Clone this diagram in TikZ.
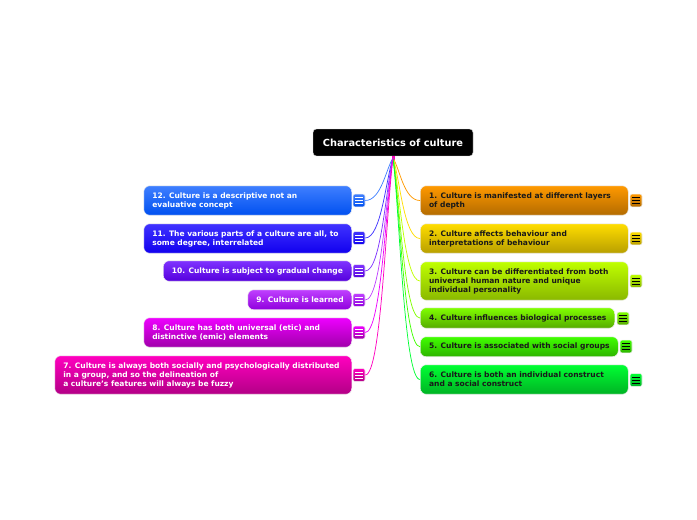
\documentclass[tikz,border=0pt]{standalone}
\usepackage{fontspec}
\usetikzlibrary{calc}
\setmainfont{DejaVu Sans}
\definecolor{top1}{HTML}{FF9900}\definecolor{bot1}{HTML}{B36B00}
\definecolor{top2}{HTML}{FFDD00}\definecolor{bot2}{HTML}{B89F00}
\definecolor{top3}{HTML}{BFFF00}\definecolor{bot3}{HTML}{8AB800}
\definecolor{top4}{HTML}{80FF00}\definecolor{bot4}{HTML}{55AA00}
\definecolor{top5}{HTML}{40FF00}\definecolor{bot5}{HTML}{2DB300}
\definecolor{top6}{HTML}{00FF33}\definecolor{bot6}{HTML}{00B324}
\definecolor{top7}{HTML}{FF00BF}\definecolor{bot7}{HTML}{B30086}
\definecolor{top8}{HTML}{EE00FF}\definecolor{bot8}{HTML}{A000AA}
\definecolor{top9}{HTML}{BF40FF}\definecolor{bot9}{HTML}{9000DD}
\definecolor{top10}{HTML}{7F33FF}\definecolor{bot10}{HTML}{5500DD}
\definecolor{top11}{HTML}{4033FF}\definecolor{bot11}{HTML}{1100EE}
\definecolor{top12}{HTML}{3F7FFF}\definecolor{bot12}{HTML}{0050F0}
\tikzset{
  rootbox/.style={rounded corners=2.5pt,fill=black,draw=black!15,line width=0.3pt,text=white,
    font=\fontsize{7.35}{9}\selectfont\bfseries,anchor=center,inner sep=0pt},
  topicbox/.style={rounded corners=4.5pt,draw=black!6,line width=0.4pt,anchor=north west,inner sep=0pt},
  topictext/.style={anchor=west,align=left,inner sep=0pt,font=\fontsize{5.64}{6.75}\selectfont\bfseries},
  badge/.style={rounded corners=1.5pt,draw=black!6,line width=0.4pt,minimum width=9pt,minimum height=9.6pt,inner sep=0pt},
  link/.style={line width=0.55pt}
}
\begin{document}
\begin{tikzpicture}[x=0.75pt,y=-0.75pt]
\useasboundingbox (0,0) rectangle (697,520);

\node[rootbox,minimum width=120pt,minimum height=20.2pt] (root) at (393,142.5) {Characteristics of culture};
\coordinate (hub) at (393,158);
\fill[top7] (391.5,156) rectangle (394.5,160);

% right side
\foreach \n/\xa/\ya/\xb/\yb/\bx/\by/\txt in {
  1/420/185.5/628/215/636/200.5/{1. Culture is manifested at different layers\\of depth},
  2/420/223.5/628/253/636/238.5/{2. Culture affects behaviour and\\interpretations of behaviour},
  3/420/261.5/628/300/636/281/{3. Culture can be differentiated from both\\universal human nature and unique\\individual personality},
  4/420/307.5/614.5/328/623/318.5/{4. Culture influences biological processes},
  5/420/336.5/618/356.5/626/346.5/{5. Culture is associated with social groups},
  6/420/364.5/628/394/636/380/{6. Culture is both an individual construct\\and a social construct}} {
    \node[topicbox,top color=top\n,bottom color=bot\n,minimum width={(\xb-\xa)*0.75pt},minimum height={(\yb-\ya)*0.75pt}] (box\n) at (\xa,\ya) {};
    \node[topictext,text=black!90] (text\n) at ([xshift=6.6pt]box\n.west) {\txt};
    \node[badge,top color=top\n,bottom color=bot\n] (badge\n) at (\bx,\by) {};
    \foreach \dy in {-3,0,3}
        \draw[black,line width=0.45pt] ([xshift=-2.7pt,yshift=\dy*0.75pt]badge\n.center) -- ([xshift=2.7pt,yshift=\dy*0.75pt]badge\n.center);
    \draw[link,top\n] (hub) .. controls ($(hub)!.25!(box\n.west)$) and ($(box\n.west)+(-16,0)$) .. (box\n.west);
}

% left side
\foreach \n/\xa/\ya/\xb/\yb/\bx/\by/\txt in {
  12/143.5/185.5/351.5/215/359/200.5/{12. Culture is a descriptive not an\\evaluative concept},
  11/143.5/223.5/351.5/253/359/238/{11. The various parts of a culture are all, to\\some degree, interrelated},
  10/163/260.5/351.5/281/359/271/{10. Culture is subject to gradual change},
  9/247.5/289.5/351.5/309.5/359/300/{9. Culture is learned},
  8/143.5/317.5/351.5/347/359/332.5/{8. Culture has both universal (etic) and\\distinctive (emic) elements},
  7/54.5/355.5/351.5/394/359/375/{7. Culture is always both socially and psychologically distributed\\in a group, and so the delineation of\\a culture's features will always be fuzzy}} {
    \node[topicbox,top color=top\n,bottom color=bot\n,minimum width={(\xb-\xa)*0.75pt},minimum height={(\yb-\ya)*0.75pt}] (box\n) at (\xa,\ya) {};
    \node[topictext,text=white] (text\n) at ([xshift=6.4pt]box\n.west) {\txt};
    \node[badge,top color=top\n,bottom color=bot\n] (badge\n) at (\bx,\by) {};
    \foreach \dy in {-3,0,3}
        \draw[white,line width=0.45pt] ([xshift=-2.7pt,yshift=\dy*0.75pt]badge\n.center) -- ([xshift=2.7pt,yshift=\dy*0.75pt]badge\n.center);
    \draw[link,top\n] (hub) .. controls ($(hub)!.25!(badge\n.east)$) and ($(badge\n.east)+(16,0)$) .. (badge\n.east);
}
\end{tikzpicture}
\end{document}
